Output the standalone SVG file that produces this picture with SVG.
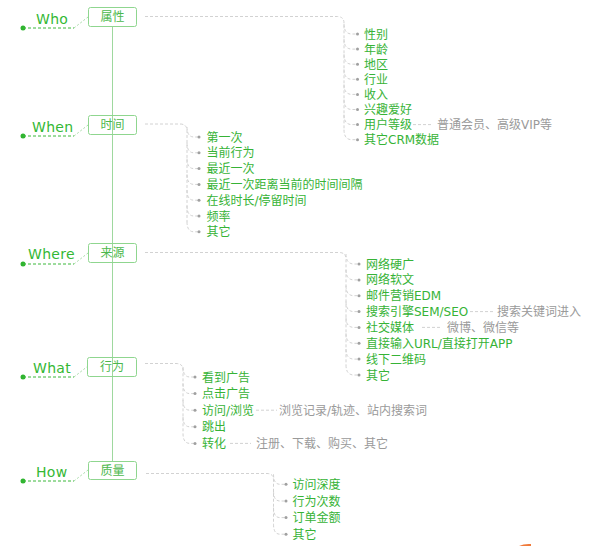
<svg xmlns="http://www.w3.org/2000/svg" width="604" height="546" viewBox="0 0 604 546">
<style>
text{font-family:"DejaVu Sans","Noto Sans CJK SC",sans-serif;}
.lbl{font-size:14px;fill:#34b834;letter-spacing:0.3px;}
.box{fill:none;stroke:#8fd68f;stroke-width:1;}
.bt{font-size:12px;fill:#4cb84c;text-anchor:middle;}
.it{font-size:12px;fill:#36b336;}
.nt{font-size:12px;fill:#9a9a9a;}
.ul{stroke:#3bb83b;stroke-width:1;stroke-dasharray:3 2;fill:none;}
.dg{stroke:#a8dca8;stroke-width:1;stroke-dasharray:2 2;fill:none;}
.cn{stroke:#d2d2d2;stroke-width:1;stroke-dasharray:3 2;fill:none;}
.md{fill:#2fb42f;}
.sd{fill:#a0a0a0;}
.vl{stroke:#9ed89e;stroke-width:1;fill:none;}
</style>
<g id="connectors">
<line class="vl" x1="112.5" y1="26" x2="112.5" y2="461"/>
<path class="cn" d="M145 16.5 H337 Q344 16.5 344 23 V130"/>
<path class="cn" d="M344 24 Q344 34 352 34 H356 M344 39 Q344 49.1 352 49.1 H356 M344 54.2 Q344 64.2 352 64.2 H356 M344 69.3 Q344 79.3 352 79.3 H356 M344 84.4 Q344 94.4 352 94.4 H356 M344 99.5 Q344 109.5 352 109.5 H356 M344 114.6 Q344 124.6 352 124.6 H356 M344 129.7 Q344 139.7 352 139.7 H356"/>
<path class="cn" d="M145 124 H180 Q187 124 187 131 V222"/>
<path class="cn" d="M187 127 Q187 137 194 137 H198 M187 142.8 Q187 152.8 194 152.8 H198 M187 158.6 Q187 168.6 194 168.6 H198 M187 174.4 Q187 184.4 194 184.4 H198 M187 190.2 Q187 200.2 194 200.2 H198 M187 206 Q187 216 194 216 H198 M187 221.8 Q187 231.8 194 231.8 H198"/>
<path class="cn" d="M145 252.5 H339 Q346 252.5 346 259 V365"/>
<path class="cn" d="M346 254 Q346 264 354 264 H358 M346 269.9 Q346 279.9 354 279.9 H358 M346 285.7 Q346 295.7 354 295.7 H358 M346 301.6 Q346 311.6 354 311.6 H358 M346 317.4 Q346 327.4 354 327.4 H358 M346 333.3 Q346 343.3 354 343.3 H358 M346 349.1 Q346 359.1 354 359.1 H358 M346 365 Q346 375 354 375 H358"/>
<path class="cn" d="M145 363.5 H176 Q183 363.5 183 370 V433"/>
<path class="cn" d="M183 367 Q183 377 190 377 H194 M183 383.6 Q183 393.6 190 393.6 H194 M183 400.2 Q183 410.2 190 410.2 H194 M183 416.8 Q183 426.8 190 426.8 H194 M183 433.4 Q183 443.4 190 443.4 H194"/>
<path class="cn" d="M146 473.5 H267 Q273.5 473.5 273.5 480 V524"/>
<path class="cn" d="M273.5 474.3 Q273.5 484.3 280 484.3 H285 M273.5 491 Q273.5 501 280 501 H285 M273.5 507.6 Q273.5 517.6 280 517.6 H285 M273.5 524.2 Q273.5 534.2 280 534.2 H285"/>
<path class="cn" d="M413 124.6 H433 M470 311.6 H493 M422 327.4 H442 M256 410.2 H277 M230 443.4 H251"/>
</g>
<g id="who">
<circle class="md" cx="23" cy="28" r="2.5"/>
<path class="ul" d="M23 28 H74"/><path class="dg" d="M74 28 L88 17"/>
<text class="lbl" x="36" y="24">Who</text>
<rect class="box" x="88.5" y="7.5" width="48" height="19" rx="2"/>
<text class="bt" x="112.5" y="21">属性</text>
</g>
<g id="when">
<circle class="md" cx="23" cy="136" r="2.5"/>
<path class="ul" d="M23 136 H74"/><path class="dg" d="M74 136 L88 125"/>
<text class="lbl" x="32" y="132">When</text>
<rect class="box" x="88.5" y="115.5" width="48" height="19" rx="2"/>
<text class="bt" x="112.5" y="129">时间</text>
</g>
<g id="where">
<circle class="md" cx="23" cy="264" r="2.5"/>
<path class="ul" d="M23 264 H74"/><path class="dg" d="M74 264 L88 253"/>
<text class="lbl" x="28" y="259">Where</text>
<rect class="box" x="88.5" y="243.5" width="48" height="19" rx="2"/>
<text class="bt" x="112.5" y="257">来源</text>
</g>
<g id="what">
<circle class="md" cx="23" cy="377" r="2.5"/>
<path class="ul" d="M23 377 H74"/><path class="dg" d="M74 377 L88 366"/>
<text class="lbl" x="33" y="373">What</text>
<rect class="box" x="87.5" y="357.5" width="49" height="19" rx="2"/>
<text class="bt" x="112" y="371">行为</text>
</g>
<g id="how">
<circle class="md" cx="23" cy="481" r="2.5"/>
<path class="ul" d="M23 481 H74"/><path class="dg" d="M74 481 L88 470"/>
<text class="lbl" x="36" y="477">How</text>
<rect class="box" x="88.5" y="461.5" width="48" height="18" rx="2"/>
<text class="bt" x="112.5" y="475">质量</text>
</g>
<g id="who-items">
<circle class="sd" cx="357.5" cy="34" r="1.5"/><text class="it" x="364" y="38.5">性别</text>
<circle class="sd" cx="357.5" cy="49.1" r="1.5"/><text class="it" x="364" y="53.6">年龄</text>
<circle class="sd" cx="357.5" cy="64.2" r="1.5"/><text class="it" x="364" y="68.7">地区</text>
<circle class="sd" cx="357.5" cy="79.3" r="1.5"/><text class="it" x="364" y="83.8">行业</text>
<circle class="sd" cx="357.5" cy="94.4" r="1.5"/><text class="it" x="364" y="98.9">收入</text>
<circle class="sd" cx="357.5" cy="109.5" r="1.5"/><text class="it" x="364" y="114">兴趣爱好</text>
<circle class="sd" cx="357.5" cy="124.6" r="1.5"/><text class="it" x="364" y="129.1">用户等级</text>
<text class="nt" x="437" y="129.1">普通会员、高级VIP等</text>
<circle class="sd" cx="357.5" cy="139.7" r="1.5"/><text class="it" x="364" y="144.2">其它CRM数据</text>
</g>
<g id="when-items">
<circle class="sd" cx="199" cy="137" r="1.5"/><text class="it" x="206.5" y="141.5">第一次</text>
<circle class="sd" cx="199" cy="152.8" r="1.5"/><text class="it" x="206.5" y="157.3">当前行为</text>
<circle class="sd" cx="199" cy="168.6" r="1.5"/><text class="it" x="206.5" y="173.1">最近一次</text>
<circle class="sd" cx="199" cy="184.4" r="1.5"/><text class="it" x="206.5" y="188.9">最近一次距离当前的时间间隔</text>
<circle class="sd" cx="199" cy="200.2" r="1.5"/><text class="it" x="206.5" y="204.7">在线时长/停留时间</text>
<circle class="sd" cx="199" cy="216" r="1.5"/><text class="it" x="206.5" y="220.5">频率</text>
<circle class="sd" cx="199" cy="231.8" r="1.5"/><text class="it" x="206.5" y="236.3">其它</text>
</g>
<g id="where-items">
<circle class="sd" cx="359" cy="264" r="1.5"/><text class="it" x="366" y="268.5">网络硬广</text>
<circle class="sd" cx="359" cy="279.9" r="1.5"/><text class="it" x="366" y="284.4">网络软文</text>
<circle class="sd" cx="359" cy="295.7" r="1.5"/><text class="it" x="366" y="300.2">邮件营销EDM</text>
<circle class="sd" cx="359" cy="311.6" r="1.5"/><text class="it" x="366" y="316.1">搜索引擎SEM/SEO</text>
<text class="nt" x="497" y="316.1">搜索关键词进入</text>
<circle class="sd" cx="359" cy="327.4" r="1.5"/><text class="it" x="366" y="331.9">社交媒体</text>
<text class="nt" x="447" y="331.9">微博、微信等</text>
<circle class="sd" cx="359" cy="343.3" r="1.5"/><text class="it" x="366" y="347.8">直接输入URL/直接打开APP</text>
<circle class="sd" cx="359" cy="359.1" r="1.5"/><text class="it" x="366" y="363.6">线下二维码</text>
<circle class="sd" cx="359" cy="375" r="1.5"/><text class="it" x="366" y="379.5">其它</text>
</g>
<g id="what-items">
<circle class="sd" cx="195" cy="377" r="1.5"/><text class="it" x="202" y="381.5">看到广告</text>
<circle class="sd" cx="195" cy="393.6" r="1.5"/><text class="it" x="202" y="398.1">点击广告</text>
<circle class="sd" cx="195" cy="410.2" r="1.5"/><text class="it" x="202" y="414.7">访问/浏览</text>
<text class="nt" x="279" y="414.7">浏览记录/轨迹、站内搜索词</text>
<circle class="sd" cx="195" cy="426.8" r="1.5"/><text class="it" x="202" y="431.3">跳出</text>
<circle class="sd" cx="195" cy="443.4" r="1.5"/><text class="it" x="202" y="447.9">转化</text>
<text class="nt" x="256" y="447.9">注册、下载、购买、其它</text>
</g>
<g id="how-items">
<circle class="sd" cx="286" cy="484.3" r="1.5"/><text class="it" x="292.5" y="488.8">访问深度</text>
<circle class="sd" cx="286" cy="501" r="1.5"/><text class="it" x="292.5" y="505.5">行为次数</text>
<circle class="sd" cx="286" cy="517.6" r="1.5"/><text class="it" x="292.5" y="522.1">订单金额</text>
<circle class="sd" cx="286" cy="534.2" r="1.5"/><text class="it" x="292.5" y="538.7">其它</text>
</g>
<path d="M519 546 Q524 543.5 531 544 L531 546 Z" fill="#f07a3a"/>
</svg>
